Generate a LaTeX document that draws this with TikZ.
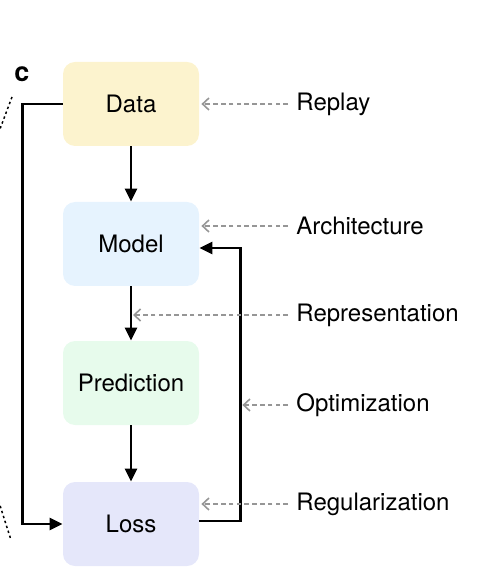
\documentclass[tikz,border=0pt]{standalone}
\usepackage{fontspec}
\setmainfont{TeX Gyre Heros}
\usetikzlibrary{arrows.meta}
\definecolor{dataFill}{RGB}{252,243,206}
\definecolor{modelFill}{RGB}{230,243,254}
\definecolor{predFill}{RGB}{231,251,236}
\definecolor{lossFill}{RGB}{229,231,250}
\definecolor{hintGray}{RGB}{150,150,150}

\begin{document}
\begin{tikzpicture}[x=0.5pt, y=-0.5pt,
		font=\fontsize{12}{14}\selectfont,
		stage/.style={rounded corners=6pt, minimum width=68pt, minimum height=42pt, inner sep=0pt},
		flow/.style={line width=1.4pt, -{Triangle[length=6.5pt, width=6pt]}},
		hint/.style={draw=hintGray, line width=0.8pt, dash pattern=on 2.3pt off 1.6pt, -{Straight Barb[length=3.2pt, width=6pt]}, shorten >=1pt, shorten <=2pt},
		tag/.style={anchor=west, inner sep=2pt}]
			%%%%% START %%%%%
			
			\useasboundingbox (0, 0) rectangle (490, 576);
			
			\node[stage, fill=dataFill] (Data) at (131, 104) {Data};
			\node[stage, fill=modelFill] (Model) at (131, 244) {Model};
			\node[stage, fill=predFill] (Prediction) at (131, 383) {Prediction};
			\node[stage, fill=lossFill] (Loss) at (131, 524) {Loss};
			
			\node[font=\fontsize{13.5}{14}\selectfont\bfseries] (panelC) at (22, 74) {c};
			
			\draw[flow] (Data) -- (Model);
			\draw[flow] (Model) -- coordinate[pos=0.52] (rep) (Prediction);
			\draw[flow] (Prediction) -- (Loss);
			
			\draw[flow] (Data.west) -- ++(-40, 0) |- (Loss.west);
			\draw[flow] ([yshift=1.5pt]Loss.east) -- ++(41, 0) coordinate (fb) |- ([yshift=-2pt]Model.east);
			
			\node[tag] (Replay) at (292, 104) {Replay};
			\node[tag] (Architecture) at (292, 226) {Architecture};
			\node[tag] (Representation) at (292, 315) {Representation};
			\node[tag] (Optimization) at (292, 405) {Optimization};
			\node[tag] (Regularization) at (292, 504) {Regularization};
			
			\draw[hint] (Replay.west) -- (Replay.west -| Data.east);
			\draw[hint] (Architecture.west) -- (Architecture.west -| Model.east);
			\draw[hint] (Representation.west) -- (Representation.west -| rep);
			\draw[hint] (Optimization.west) -- (Optimization.west -| fb);
			\draw[hint] (Regularization.west) -- (Regularization.west -| Loss.east);
			
			\draw[line width=0.75pt, dash pattern=on 1.2pt off 1.4pt] (12, 97) -- (-3, 137);
			\draw[line width=0.75pt, dash pattern=on 1.2pt off 1.4pt] (-3, 496) -- (11, 540);
			
			%%%%% END %%%%%
		\end{tikzpicture}
\end{document}
